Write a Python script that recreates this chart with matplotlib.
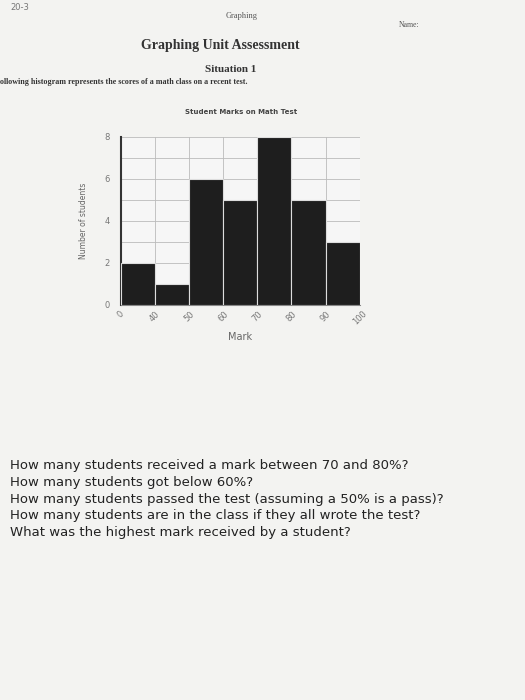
import matplotlib
matplotlib.use("Agg")
import matplotlib.pyplot as plt

bins = ["0", "40", "50", "60", "70", "80", "90", "100"]
counts = [2, 1, 6, 5, 8, 5, 3]
questions = [
    "How many students received a mark between 70 and 80%?",
    "How many students got below 60%?",
    "How many students passed the test (assuming a 50% is a pass)?",
    "How many students are in the class if they all wrote the test?",
    "What was the highest mark received by a student?",
]

fig = plt.figure(figsize=(5.25, 7.0), dpi=100)
fig.patch.set_facecolor("#f3f3f1")
fig.text(0.02, 0.995, "20-3", fontsize=6, color="#777", va="top")
fig.text(0.43, 0.975, "Graphing", fontsize=6, family="Liberation Serif", color="#555")
fig.text(0.76, 0.962, "Name:", fontsize=5.5, family="Liberation Serif", color="#555")
fig.text(0.42, 0.93, "Graphing Unit Assessment", fontsize=10, weight="bold",
         family="Liberation Serif", ha="center", color="#333")
fig.text(0.44, 0.897, "Situation 1", fontsize=8, weight="bold",
         family="Liberation Serif", ha="center", color="#333")
fig.text(0.0, 0.88, "ollowing histogram represents the scores of a math class on a recent test.",
         fontsize=5.8, weight="bold", family="Liberation Serif", color="#333")
fig.text(0.46, 0.837, "Student Marks on Math Test", fontsize=5, weight="bold",
         ha="center", color="#444")

ax = fig.add_axes([0.23, 0.565, 0.455, 0.24])
ax.set_facecolor("#f6f6f6")
x = list(range(len(counts)))
ax.bar(x, counts, width=1.0, align="edge", color="#1e1e1e", edgecolor="#ddd", linewidth=0.8, zorder=3)
ax.set_xlim(0, 7)
ax.set_ylim(0, 8)
ax.set_yticks(range(0, 9, 2))
ax.set_yticks(range(0, 9), minor=True)
ax.grid(True, which="both", color="#bbb", linewidth=0.6, zorder=0)
ax.set_xticks(range(8))
ax.set_xticklabels(bins, rotation=45, fontsize=6, color="#777")
ax.tick_params(axis="y", which="both", labelsize=6, colors="#777", length=0, pad=8)
ax.tick_params(axis="x", length=0)
for s in ["top", "right"]:
    ax.spines[s].set_visible(False)
ax.spines["left"].set_color("#333")
ax.spines["left"].set_linewidth(1.5)
ax.spines["bottom"].set_color("#888")
ax.set_xlabel("Mark", fontsize=7, color="#666")
ax.set_ylabel("Number of students", fontsize=5.5, color="#666", labelpad=12)

y = 0.33
for q in questions:
    fig.text(0.02, y, q, fontsize=9.5, color="#222")
    y -= 0.024

fig.savefig("out.png", dpi=100, facecolor=fig.get_facecolor())
